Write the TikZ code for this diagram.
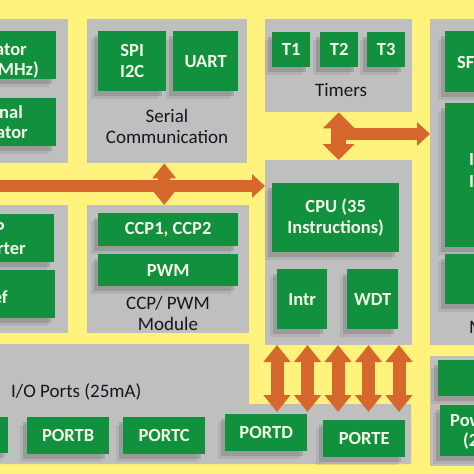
\documentclass[tikz,border=0pt]{standalone}
\usepackage{fontspec}
\setmainfont{Carlito}
\usetikzlibrary{arrows.meta,positioning,shadows}
\definecolor{bgc}{HTML}{FFF37E}
\definecolor{panelc}{HTML}{BFBFBF}
\definecolor{chipc}{HTML}{11903D}
\definecolor{chiptxt}{HTML}{F4F8E8}
\definecolor{busc}{HTML}{D6682E}
\definecolor{labc}{HTML}{16161E}

\begin{document}
\begin{tikzpicture}[x=1pt,y=-1pt,
    panel/.style={fill=panelc,anchor=north west,inner sep=0},
    chip/.style={fill=chipc,text=chiptxt,anchor=north west,inner sep=0,align=center,
      font=\fontsize{18.5}{21}\selectfont\bfseries,
      drop shadow={shadow xshift=-7pt,shadow yshift=-8pt,opacity=0.12,fill=black!70},
      drop shadow={shadow xshift=-4pt,shadow yshift=-5pt,opacity=0.22,fill=black!70}},
    frag/.style={text=chiptxt,inner sep=0,font=\fontsize{18.5}{21}\selectfont\bfseries},
    lab/.style={text=labc,align=center,inner sep=0,font=\fontsize{19}{21}\selectfont},
    bus/.style={draw=busc,line width=12pt,-{Triangle[width=23pt,length=13pt]}},
    bibus/.style={draw=busc,line width=13pt,{Triangle[width=26pt,length=17pt]}-{Triangle[width=26pt,length=17pt]}}]
    \useasboundingbox (0,0) rectangle (474,474);
    \fill[bgc] (0,0) rectangle (474,474);
    \clip (0,0) rectangle (474,474);

    % panels
    \node[panel,minimum width=78,minimum height=144] (clkp) at (-10,19) {};
    \node[panel,minimum width=160,minimum height=144] (serial) at (87,19) {};
    \node[panel,minimum width=147,minimum height=93] (timers) at (265,19) {};
    \node[panel,minimum width=60,minimum height=326] (mem) at (430,19) {};
    \node[panel,minimum width=78,minimum height=128] (adcp) at (-10,205) {};
    \node[panel,minimum width=162,minimum height=128] (ccp) at (87,205) {};
    \node[panel,minimum width=147,minimum height=185] (cpup) at (265,160) {};
    \node[panel,minimum width=60,minimum height=110] (pwr) at (430,356) {};
    \fill[panelc] (-10,344) -- (249,344) -- (249,404) -- (411,404) -- (411,464) -- (-10,464) -- cycle;

    % green blocks
    \node[chip,minimum width=66,minimum height=48] (osc) at (-10,31) {};
    \node[chip,minimum width=66,minimum height=48] (intosc) at (-10,98) {};
    \node[chip,minimum width=68,minimum height=60] (spi) at (98,31) {SPI\\I2C};
    \node[chip,minimum width=65,minimum height=60] (uart) at (173,31) {UART};
    \foreach \i/\x in {1/272,2/320,3/367}
      \node[chip,minimum width=38,minimum height=35] (t\i) at (\x,32) {T\i};
    \node[chip,minimum width=60,minimum height=61] (sfr) at (445,31) {};
    \node[chip,minimum width=60,minimum height=144] (flash) at (445,103) {};
    \node[chip,minimum width=60,minimum height=50] (eep) at (445,254) {};
    \node[chip,minimum width=64,minimum height=48] (adc) at (-10,214) {};
    \node[chip,minimum width=65,minimum height=48] (vref) at (-10,270) {};
    \node[chip,minimum width=140,minimum height=33] (ccpa) at (98,213) {CCP1, CCP2};
    \node[chip,minimum width=140,minimum height=32] (pwm) at (98,254) {PWM};
    \node[chip,minimum width=127,minimum height=69] (cpu) at (272,183) {CPU (35\\Instructions)};
    \node[chip,minimum width=50,minimum height=60] (intr) at (277,269) {Intr};
    \node[chip,minimum width=51,minimum height=60] (wdt) at (347,269) {WDT};
    \node[chip,minimum width=18,minimum height=36] (porta) at (-10,417) {};
    \foreach \n/\x/\y in {B/27/417,C/123/417,D/225/414,E/323/420}
      \node[chip,minimum width=82,minimum height=37] (port\n) at (\x,\y) {PORT\n};
    \node[chip,minimum width=52,minimum height=36] (bor) at (438,360) {};
    \node[chip,minimum width=50,minimum height=51] (power) at (440,405) {};

    % cut-off words at the edges
    \node[frag,anchor=east] (f1) at (27,50) {ator};
    \node[frag,anchor=east] (f2) at (39,70) {MHz)};
    \node[frag,anchor=east] (f3) at (23,112) {nal};
    \node[frag,anchor=east] (f4) at (28,133) {ator};
    \node[frag,anchor=east] (f5) at (5,228) {P};
    \node[frag,anchor=east] (f6) at (26,249) {rter};
    \node[frag,anchor=east] (f7) at (8,297) {ef};
    \node[frag,anchor=west] (f8) at (457,62) {SF};
    \node[frag,anchor=west] (f9) at (469,159) {I};
    \node[frag,anchor=west] (f10) at (469,181) {I};
    \node[frag,anchor=west] (f11) at (450,421) {Pow};
    \node[frag,anchor=west] (f12) at (463,441) {(2};

    % panel labels
    \node[lab] (seriallab) at (167,126) {Serial\\Communication};
    \node[lab] (timerlab) at (341,90) {Timers};
    \node[lab] (ccplab) at (168,313) {CCP/ PWM\\Module};
    \node[lab,anchor=west] (iolab) at (11,392) {I/O Ports (25mA)};
    \node[lab,anchor=west] (memlab) at (469,327) {M};

    % buses
    \coordinate (busw) at (-10,186);
    \draw[bus] (busw) -- (busw -| cpup.west);
    \draw[bibus,line width=12pt,{Triangle[width=23pt,length=15pt]}-{Triangle[width=23pt,length=15pt]}]
      ([xshift=-3pt]serial.south) -- ([xshift=-3pt]serial.south |- ccp.north);
    \draw[bibus,line width=15pt,{Triangle[width=31pt,length=16pt]}-{Triangle[width=31pt,length=16pt]}]
      (timers.south) -- (cpup.north);
    \coordinate (tj) at (338.5,134);
    \draw[bus] (tj) -- (tj -| mem.west);
    \foreach \x [count=\k] in {277,307.5,338,368.5,399} {
      \coordinate (up\k) at (\x,345);
      \coordinate (dn\k) at (\x,412);
      \draw[bibus] (up\k) -- (dn\k);
    }
  \end{tikzpicture}
\end{document}
